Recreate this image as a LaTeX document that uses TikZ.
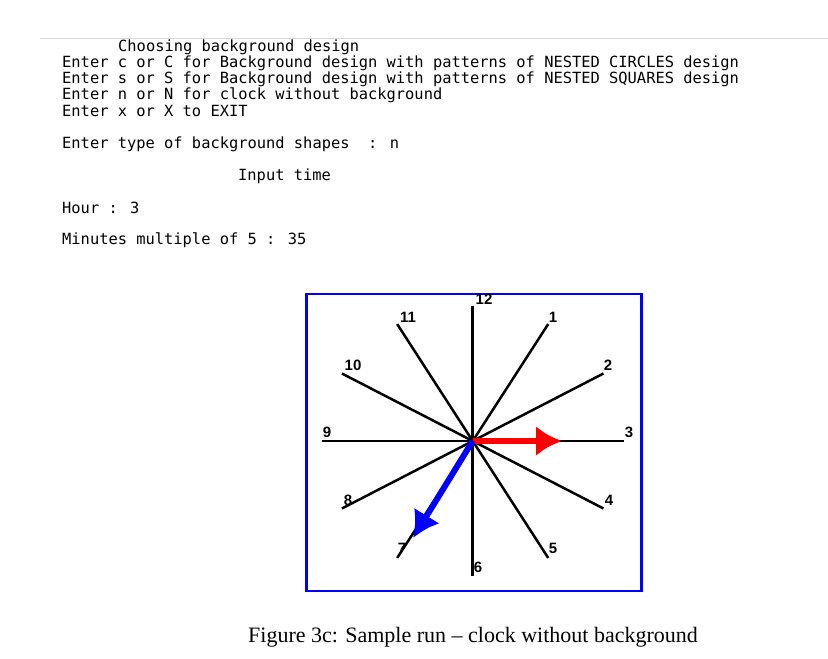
\documentclass[tikz,border=0pt]{standalone}
\usepackage{fontspec}
\setmainfont{Liberation Serif}
\newfontfamily\monof{DejaVu Sans Mono}
\newfontfamily\labf{Liberation Sans}
\usetikzlibrary{arrows.meta,calc}
\begin{document}
\begin{tikzpicture}[x=1pt,y=-1pt,
  mono/.style={anchor=west,inner sep=0,font=\monof\fontsize{15.4}{16}\selectfont},
  hr/.style={inner sep=0,font=\labf\bfseries\fontsize{15}{16}\selectfont},
  tick/.style={line width=2.5pt},
  hand/.style={line width=6pt,-{Latex[length=26pt,width=30pt]}}]
\useasboundingbox (0,0) rectangle (828,659);
\fill[white] (0,0) rectangle (828,659);
\draw[black!15] (40,38) -- (828,38);
\node[mono] (t0) at (118,47) {Choosing background design};
\node[mono] (t1) at (62,63) {Enter c or C for Background design with patterns of NESTED CIRCLES design};
\node[mono] (t2) at (62,79) {Enter s or S for Background design with patterns of NESTED SQUARES design};
\node[mono] (t3) at (62,95) {Enter n or N for clock without background};
\node[mono] (t4) at (62,111) {Enter x or X to EXIT};
\node[mono] (t5) at (62,144) {Enter type of background shapes~~: n};
\node[mono] (t6) at (238,176) {Input time};
\node[mono] (t7) at (62,208) {Hour : 3};
\node[mono] (t8) at (62,240) {Minutes multiple of 5 : 35};
\draw[blue,line width=2.5pt] (306.7,294) rectangle (641.7,591);
\coordinate (c) at (472.7,441);
\foreach \i in {1,...,12}{
  \draw[tick] (c) -- ($(c)+({151*sin(30*\i)},{-135*cos(30*\i)})$);
}
\node[hr] (h12) at (484,299) {12};
\node[hr] (h11) at (408,317) {11};
\node[hr] (h1) at (553,317) {1};
\node[hr] (h10) at (353,365) {10};
\node[hr] (h2) at (608,365) {2};
\node[hr] (h9) at (327,432) {9};
\node[hr] (h3) at (629,432) {3};
\node[hr] (h8) at (348,500) {8};
\node[hr] (h4) at (609,500) {4};
\node[hr] (h7) at (402,548) {7};
\node[hr] (h5) at (553,548) {5};
\node[hr] (h6) at (478,567) {6};
\coordinate (rt) at (562,441);
\coordinate (bt) at (413,538);
\draw[hand,red] (c) -- (rt);
\draw[hand,blue] (c) -- (bt);
\node[inner sep=0,font=\fontsize{22}{24}\selectfont] (cap) at (473,637) {Figure 3c: Sample run -- clock without background};
\end{tikzpicture}
\end{document}
